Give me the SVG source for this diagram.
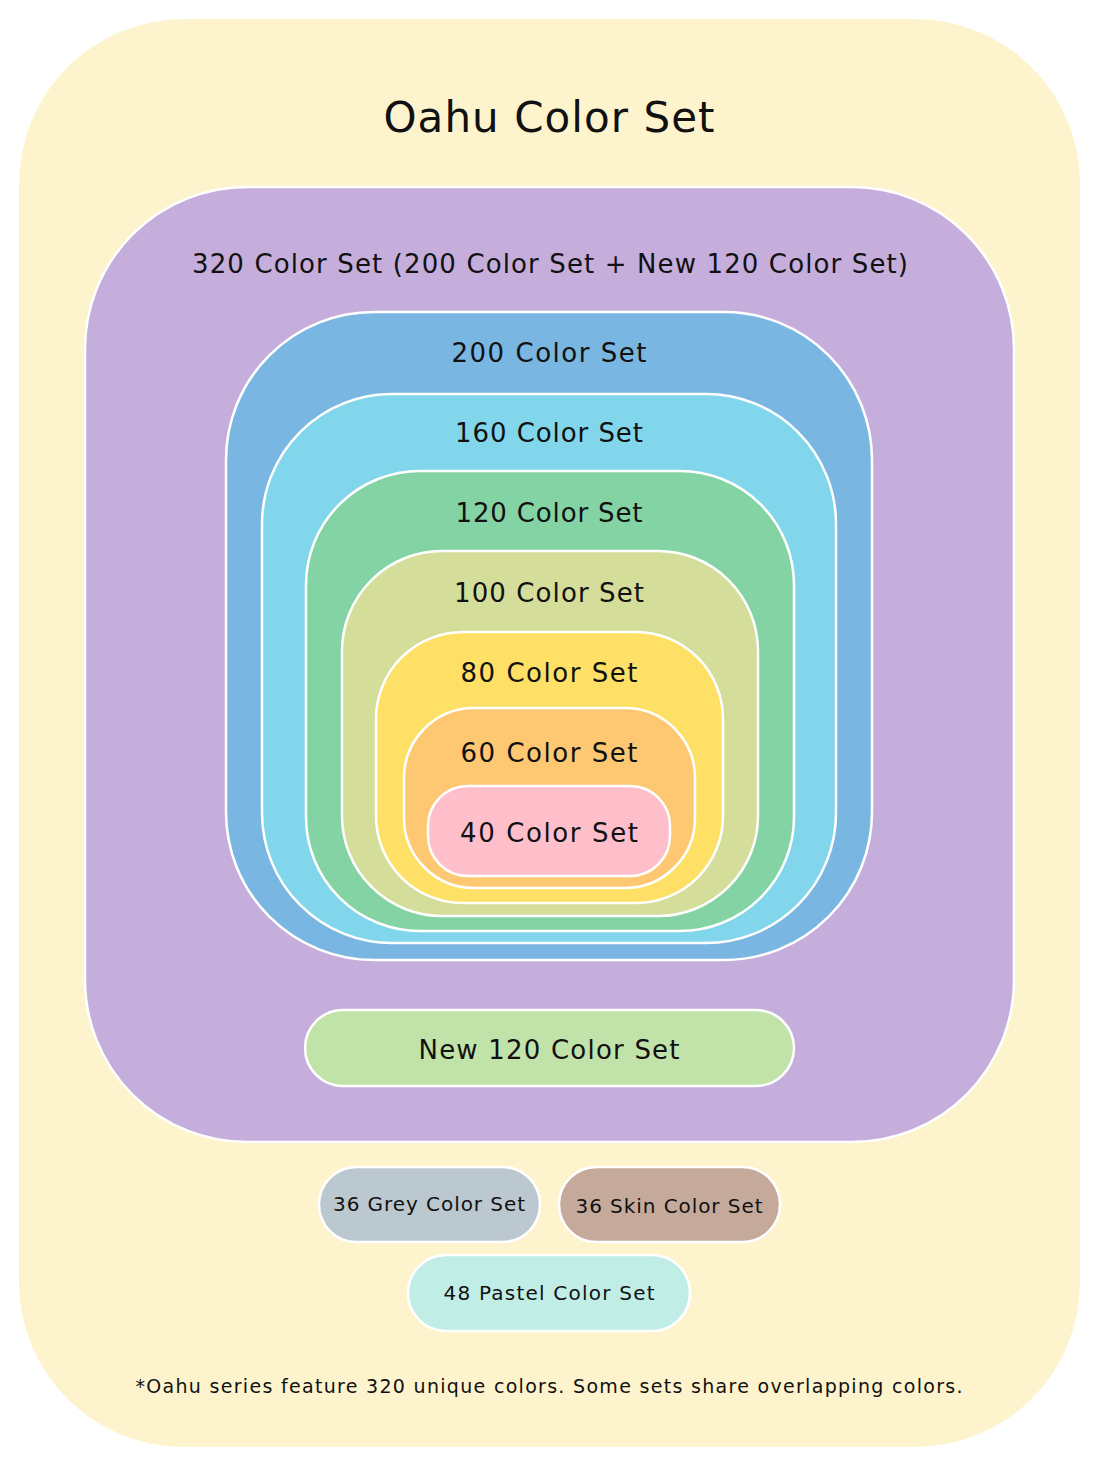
<svg xmlns="http://www.w3.org/2000/svg" width="1100" height="1467" viewBox="0 0 1100 1467">
<style>
.box{stroke:#ffffff;stroke-width:2.5}
text{font-family:"DejaVu Sans","Open Sans",sans-serif;fill:#111111;text-anchor:middle}
.lbl{font-size:26px}
.sm{font-size:20px}
</style>
<rect width="1100" height="1467" fill="#ffffff"/>
<g id="oahu">
<rect x="19" y="19" width="1061" height="1428" rx="165" ry="165" fill="#FDF4CD"/>
<text x="549" y="132" style="font-size:42px" textLength="331">Oahu Color Set</text>
</g>
<g id="set320">
<rect class="box" x="85" y="187" width="929" height="955" rx="162" ry="162" fill="#C5AEDC"/>
<text class="lbl" x="550" y="273" textLength="716">320 Color Set (200 Color Set + New 120 Color Set)</text>
</g>
<g id="set200">
<rect class="box" x="226" y="312" width="646" height="648" rx="148" ry="148" fill="#7AB6E2"/>
<text class="lbl" x="549" y="362" textLength="195">200 Color Set</text>
</g>
<g id="set160">
<rect class="box" x="262" y="394" width="574" height="549" rx="130" ry="130" fill="#82D6EB"/>
<text class="lbl" x="549" y="442" textLength="188">160 Color Set</text>
</g>
<g id="set120">
<rect class="box" x="306" y="471" width="488" height="460" rx="114" ry="114" fill="#84D3A5"/>
<text class="lbl" x="549" y="522" textLength="187">120 Color Set</text>
</g>
<g id="set100">
<rect class="box" x="342" y="551" width="416" height="365" rx="100" ry="100" fill="#D4DD9A"/>
<text class="lbl" x="549" y="602" textLength="190">100 Color Set</text>
</g>
<g id="set80">
<rect class="box" x="376" y="632" width="347" height="271" rx="87" ry="87" fill="#FEE066"/>
<text class="lbl" x="549" y="682" textLength="177">80 Color Set</text>
</g>
<g id="set60">
<rect class="box" x="404" y="708" width="291" height="180" rx="70" ry="70" fill="#FEC873"/>
<text class="lbl" x="549" y="762" textLength="177">60 Color Set</text>
</g>
<g id="set40">
<rect class="box" x="428" y="786" width="242" height="90" rx="40" ry="40" fill="#FEBFCB"/>
<text class="lbl" x="549" y="842" textLength="178">40 Color Set</text>
</g>
<g id="new120">
<rect class="box" x="305" y="1010" width="489" height="76" rx="38" ry="38" fill="#C1E3AA"/>
<text class="lbl" x="549" y="1059" textLength="261">New 120 Color Set</text>
</g>
<g id="grey36">
<rect class="box" x="319" y="1167" width="221" height="75" rx="37.5" ry="37.5" fill="#BCC8CF"/>
<text class="sm" x="429" y="1211" textLength="192">36 Grey Color Set</text>
</g>
<g id="skin36">
<rect class="box" x="559" y="1167" width="221" height="75" rx="37.5" ry="37.5" fill="#C5AA9C"/>
<text class="sm" x="669" y="1213" textLength="187">36 Skin Color Set</text>
</g>
<g id="pastel48">
<rect class="box" x="408" y="1255" width="282" height="76" rx="38" ry="38" fill="#C0EDE5"/>
<text class="sm" x="549" y="1300" textLength="211">48 Pastel Color Set</text>
</g>
<g id="footnote">
<text x="549" y="1393" style="font-size:19px" textLength="827">*Oahu series feature 320 unique colors. Some sets share overlapping colors.</text>
</g>
<g id="connectors"></g>
</svg>
